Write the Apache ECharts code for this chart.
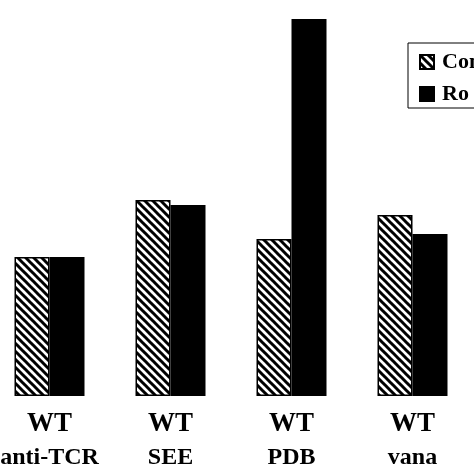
<!DOCTYPE html>
<html>
<head>
<meta charset="utf-8">
<script src="https://cdn.jsdelivr.net/npm/echarts@6/dist/echarts.min.js"></script>
<style>
    html, body { margin: 0; padding: 0; background: #fff; }
    #chart { width: 474px; height: 474px; }
</style>
</head>
<body>
<div id="chart"></div>
<script>
var groups = ['WT', 'WT', 'WT', 'WT'];
var stimuli = ['anti-TCR', 'SEE', 'PDB', 'vana'];
var seriesNames = ['Control', 'Ro 31-8220'];
var controlValues = [139, 196, 157, 181];
var roValues = [139, 191, 377, 162];

// hatch pattern for the control bars
function hatch() {
    var c = document.createElement('canvas');
    c.width = 8;
    c.height = 8;
    var ctx = c.getContext('2d');
    ctx.fillStyle = '#fff';
    ctx.fillRect(0, 0, 8, 8);
    ctx.strokeStyle = '#000';
    ctx.lineWidth = 3;
    for (var k = -8; k <= 8; k += 8) {
        ctx.beginPath();
        ctx.moveTo(-1, k - 1);
        ctx.lineTo(9, k + 9);
        ctx.stroke();
    }
    return c;
}

var labels = [];
for (var i = 0; i < groups.length; i++) {
    labels.push(groups[i] + '\n' + stimuli[i]);
}

var font = 'Liberation Serif';

var chart = echarts.init(document.getElementById('chart'));

chart.setOption({
    animation: false,
    backgroundColor: '#fff',
    grid: {
        left: -11,
        right: 1,
        top: 0,
        bottom: 78,
        outerBoundsMode: 'none'
    },
    legend: {
        orient: 'vertical',
        left: 408,
        top: 43,
        padding: [8, 10, 3, 11],
        itemGap: 10,
        itemWidth: 14,
        itemHeight: 14,
        borderColor: '#000',
        borderWidth: 1,
        icon: 'rect',
        textStyle: {
            fontFamily: font,
            fontSize: 22,
            fontWeight: 'bold',
            color: '#000',
            lineHeight: 22,
            padding: [0, 0, 0, 3]
        },
        data: seriesNames
    },
    xAxis: {
        type: 'category',
        data: labels,
        axisLine: { show: false },
        axisTick: { show: false },
        axisLabel: {
            margin: 12.5,
            interval: 0,
            formatter: function (v) {
                var p = v.split('\n');
                return '{a|' + p[0] + '}\n{b|' + p[1] + '}';
            },
            rich: {
                a: {
                    fontFamily: font,
                    fontSize: 27,
                    fontWeight: 'bold',
                    color: '#000',
                    lineHeight: 32
                },
                b: {
                    fontFamily: font,
                    fontSize: 24,
                    fontWeight: 'bold',
                    color: '#000',
                    lineHeight: 34
                }
            }
        }
    },
    yAxis: {
        type: 'value',
        min: 0,
        max: 396,
        show: false,
        splitLine: { show: false }
    },
    series: [{
        name: seriesNames[0],
        type: 'bar',
        barWidth: 35,
        barGap: '0%',
        itemStyle: {
            color: { image: hatch(), repeat: 'repeat' },
            borderColor: '#000',
            borderWidth: 1.5
        },
        data: controlValues
    }, {
        name: seriesNames[1],
        type: 'bar',
        barWidth: 35,
        barGap: '0%',
        itemStyle: {
            color: '#000',
            borderColor: '#000',
            borderWidth: 1.5
        },
        data: roValues
    }]
});
</script>
</body>
</html>
